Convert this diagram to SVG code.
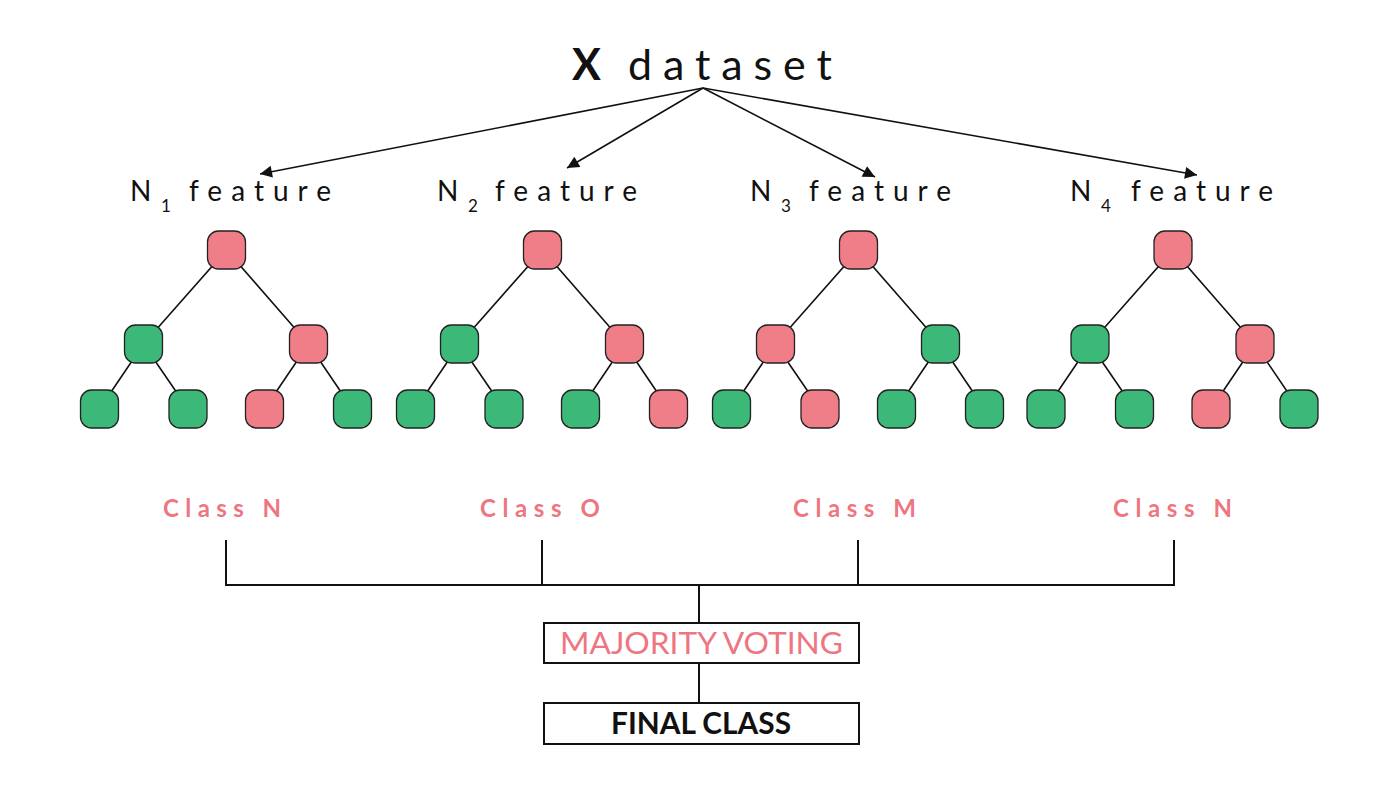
<svg xmlns="http://www.w3.org/2000/svg" width="1400" height="788" viewBox="0 0 1400 788">
<defs>
<style>
.t{font-family:Lato,"Liberation Sans",sans-serif;fill:#111}
.r{fill:#F07E88;stroke:#222;stroke-width:1.3}
.g{fill:#3CB878;stroke:#222;stroke-width:1.3}
.e{stroke:#111;stroke-width:1.6;fill:none}
.c{font-family:Lato,"Liberation Sans",sans-serif;fill:#EE7681;font-size:24px;font-weight:bold}
.b{fill:#fff;stroke:#111;stroke-width:2}
.k{stroke:#111;stroke-width:2;fill:none}
</style>
<marker id="ah" viewBox="0 0 10 10" refX="10" refY="5" markerWidth="17" markerHeight="12" markerUnits="userSpaceOnUse" orient="auto"><path d="M0,0 L10,5 L0,10 z" fill="#111"/></marker>
<symbol id="n" overflow="visible"><rect x="-19" y="-19" width="38" height="38" rx="11"/></symbol>
</defs>
<rect width="1400" height="788" fill="#fff"/>
<g id="title">
<text class="t" x="572" y="80" font-size="43" font-weight="bold">X</text>
<text class="t" x="628" y="80" font-size="43" textLength="204" lengthAdjust="spacing">dataset</text>
</g>
<g id="connectors">
<line class="e" x1="703" y1="88" x2="260" y2="174" marker-end="url(#ah)"/>
<line class="e" x1="703" y1="88" x2="567" y2="168" marker-end="url(#ah)"/>
<line class="e" x1="703" y1="88" x2="875" y2="177" marker-end="url(#ah)"/>
<line class="e" x1="703" y1="88" x2="1197" y2="175" marker-end="url(#ah)"/>
<path class="k" d="M226,540 V585 M542,540 V585 M858,540 V585 M1174,540 V585 M225,585 H1175 M699,585 V623 M699,663 V703"/>
</g>
<g id="labels">
<text class="t" x="130" y="201" font-size="28">N</text><text class="t" x="161" y="212" font-size="17">1</text><text class="t" x="189" y="201" font-size="28" textLength="142" lengthAdjust="spacing">feature</text>
<text class="t" x="437" y="201" font-size="28">N</text><text class="t" x="468" y="212" font-size="17">2</text><text class="t" x="495" y="201" font-size="28" textLength="142" lengthAdjust="spacing">feature</text>
<text class="t" x="750" y="201" font-size="28">N</text><text class="t" x="781" y="212" font-size="17">3</text><text class="t" x="809" y="201" font-size="28" textLength="142" lengthAdjust="spacing">feature</text>
<text class="t" x="1070" y="201" font-size="28">N</text><text class="t" x="1101" y="212" font-size="17">4</text><text class="t" x="1131" y="201" font-size="28" textLength="142" lengthAdjust="spacing">feature</text>
</g>
<g id="tree1" transform="translate(226.5,0)">
<path class="e" d="M0,250 L-83,344 M0,250 L82,344 M-83,344 L-127,409 M-83,344 L-38.5,409 M82,344 L38,409 M82,344 L126,409"/>
<use href="#n" class="r" x="0" y="250"/>
<use href="#n" class="g" x="-83" y="344"/>
<use href="#n" class="r" x="82" y="344"/>
<use href="#n" class="g" x="-127" y="409"/>
<use href="#n" class="g" x="-38.5" y="409"/>
<use href="#n" class="r" x="38" y="409"/>
<use href="#n" class="g" x="126" y="409"/>
</g>
<g id="tree2" transform="translate(542.5,0)">
<path class="e" d="M0,250 L-83,344 M0,250 L82,344 M-83,344 L-127,409 M-83,344 L-38.5,409 M82,344 L38,409 M82,344 L126,409"/>
<use href="#n" class="r" x="0" y="250"/>
<use href="#n" class="g" x="-83" y="344"/>
<use href="#n" class="r" x="82" y="344"/>
<use href="#n" class="g" x="-127" y="409"/>
<use href="#n" class="g" x="-38.5" y="409"/>
<use href="#n" class="g" x="38" y="409"/>
<use href="#n" class="r" x="126" y="409"/>
</g>
<g id="tree3" transform="translate(858.5,0)">
<path class="e" d="M0,250 L-83,344 M0,250 L82,344 M-83,344 L-127,409 M-83,344 L-38.5,409 M82,344 L38,409 M82,344 L126,409"/>
<use href="#n" class="r" x="0" y="250"/>
<use href="#n" class="r" x="-83" y="344"/>
<use href="#n" class="g" x="82" y="344"/>
<use href="#n" class="g" x="-127" y="409"/>
<use href="#n" class="r" x="-38.5" y="409"/>
<use href="#n" class="g" x="38" y="409"/>
<use href="#n" class="g" x="126" y="409"/>
</g>
<g id="tree4" transform="translate(1173,0)">
<path class="e" d="M0,250 L-83,344 M0,250 L82,344 M-83,344 L-127,409 M-83,344 L-38.5,409 M82,344 L38,409 M82,344 L126,409"/>
<use href="#n" class="r" x="0" y="250"/>
<use href="#n" class="g" x="-83" y="344"/>
<use href="#n" class="r" x="82" y="344"/>
<use href="#n" class="g" x="-127" y="409"/>
<use href="#n" class="g" x="-38.5" y="409"/>
<use href="#n" class="r" x="38" y="409"/>
<use href="#n" class="g" x="126" y="409"/>
</g>
<g id="classes">
<text class="c" x="163" y="517" textLength="118" lengthAdjust="spacing">Class N</text>
<text class="c" x="480" y="517" textLength="120" lengthAdjust="spacing">Class O</text>
<text class="c" x="793" y="517" textLength="123" lengthAdjust="spacing">Class M</text>
<text class="c" x="1113" y="517" textLength="119" lengthAdjust="spacing">Class N</text>
</g>
<g id="majority">
<rect class="b" x="544" y="623" width="315" height="40"/>
<text x="560" y="654" font-family="Lato,'Liberation Sans',sans-serif" font-size="30" fill="#EE7681" textLength="283" lengthAdjust="spacingAndGlyphs">MAJORITY VOTING</text>
</g>
<g id="final">
<rect class="b" x="544" y="703" width="315" height="41"/>
<text x="611" y="734" font-family="Lato,'Liberation Sans',sans-serif" font-size="30" font-weight="bold" fill="#111" textLength="180" lengthAdjust="spacingAndGlyphs">FINAL CLASS</text>
</g>
</svg>
